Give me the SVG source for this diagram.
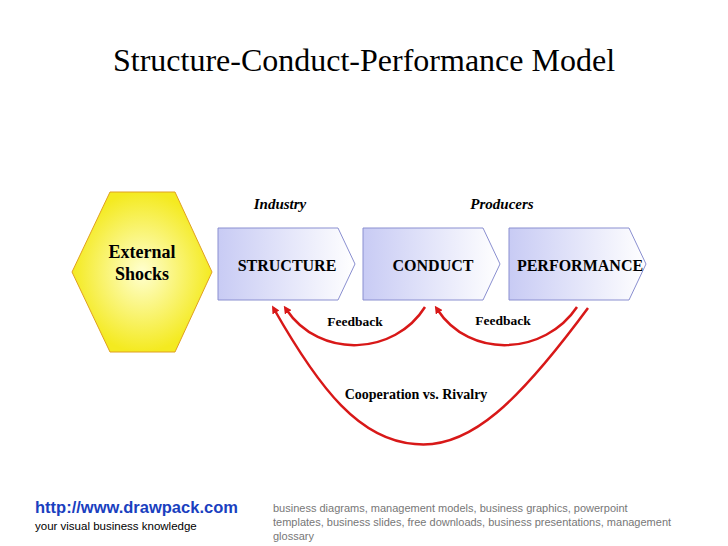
<svg xmlns="http://www.w3.org/2000/svg" width="728" height="546" viewBox="0 0 728 546">
<style>
.t{font-family:"Liberation Serif",serif;font-weight:bold;fill:#000}
.s{font-family:"Liberation Sans",sans-serif}
.c{fill:url(#bl);stroke:#8a8fd0;stroke-width:1}
.a{fill:none;stroke:#d81818;stroke-width:2.5;marker-end:url(#ah)}
</style>
<defs>
<linearGradient id="bl" x1="0" x2="1" y1="0" y2="0"><stop offset="0" stop-color="#c8cbf4"/><stop offset="1" stop-color="#ffffff"/></linearGradient>
<radialGradient id="yl"><stop offset="0" stop-color="#ffffd0"/><stop offset="1" stop-color="#f4ea20"/></radialGradient>
<marker id="ah" markerWidth="8" markerHeight="8" refX="4" refY="4" orient="auto" markerUnits="userSpaceOnUse"><path d="M0,0L8,4L0,8z" fill="#d81818"/></marker>
</defs>
<rect width="728" height="546" fill="#fff"/>
<text x="364" y="71" text-anchor="middle" font-family="Liberation Serif,serif" font-size="32">Structure-Conduct-Performance Model</text>
<g id="shocks"><polygon points="72,272 110,192 175,192 212,272 175,352 110,352" fill="url(#yl)" stroke="#e0a020"/>
<text class="t" x="142" y="258" text-anchor="middle" font-size="18">External</text><text class="t" x="142" y="280" text-anchor="middle" font-size="18">Shocks</text></g>
<g id="structure"><polygon class="c" points="218,228 338,228 355,264 338,300 218,300"/><text class="t" x="287" y="271" text-anchor="middle" font-size="16">STRUCTURE</text></g>
<g id="conduct"><polygon class="c" points="363,228 483,228 500,264 483,300 363,300"/><text class="t" x="433" y="271" text-anchor="middle" font-size="16">CONDUCT</text></g>
<g id="performance"><polygon class="c" points="509,228 629,228 646,264 629,300 509,300"/><text class="t" x="580" y="271" text-anchor="middle" font-size="16">PERFORMANCE</text></g>
<text class="t" x="280" y="209" text-anchor="middle" font-size="15" font-style="italic">Industry</text>
<text class="t" x="502" y="209" text-anchor="middle" font-size="15" font-style="italic">Producers</text>
<g id="connectors">
<path class="a" d="M425,307 C395,355 320,360 286,309"/>
<path class="a" d="M577,307 C545,355 470,360 437,309"/>
<path class="a" d="M588,308 C520,400 470,450 415,444 C360,440 320,390 274,309"/>
</g>
<text class="t" x="355" y="326" text-anchor="middle" font-size="13.5">Feedback</text>
<text class="t" x="503" y="325" text-anchor="middle" font-size="13.5">Feedback</text>
<text class="t" x="416" y="399" text-anchor="middle" font-size="14">Cooperation vs. Rivalry</text>
<text class="s" x="35" y="513" font-size="16.5" font-weight="bold" fill="#1a3fbf">http://www.drawpack.com</text>
<text class="s" x="35" y="530" font-size="11.5">your visual business knowledge</text>
<text class="s" x="273" y="512" font-size="11" fill="#777">business diagrams, management models, business graphics, powerpoint</text>
<text class="s" x="273" y="526" font-size="11" fill="#777">templates, business slides, free downloads, business presentations, management</text>
<text class="s" x="273" y="540" font-size="11" fill="#777">glossary</text>
</svg>
